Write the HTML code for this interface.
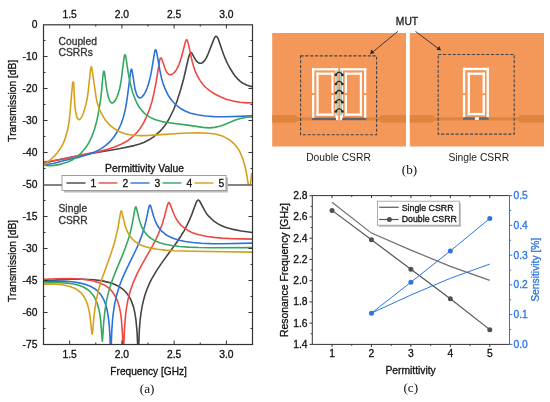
<!DOCTYPE html>
<html><head><meta charset="utf-8"><style>
html,body{margin:0;padding:0;background:#fff;}
svg{display:block;will-change:transform;}

</style></head><body>
<svg width="550" height="402" viewBox="0 0 550 402"><defs><clipPath id="ct"><rect x="43.5" y="24.5" width="209.0" height="160.0"/></clipPath>
<clipPath id="cb"><rect x="43.5" y="184.5" width="209.0" height="160.0"/></clipPath></defs>
<path d="M43.6,163.2 L56.3,160.3 L73.2,156.8 L92.4,153.2 L119.1,148.8 L134.2,145.6 L139.6,144.1 L144.3,142.2 L149.0,139.8 L153.6,136.8 L156.7,134.2 L159.6,131.6 L162.3,128.8 L164.7,125.7 L167.0,122.4 L169.3,118.5 L173.7,109.5 L177.2,100.6 L180.7,89.5 L183.8,78.2 L188.3,58.5 L189.3,55.2 L190.1,53.4 L190.9,52.6 L191.3,52.7 L191.8,53.1 L195.5,59.7 L196.7,61.3 L197.9,62.4 L199.1,63.1 L200.2,63.3 L201.4,63.2 L202.6,62.6 L204.6,60.6 L206.6,57.4 L208.6,52.8 L213.9,39.1 L214.9,37.1 L215.7,36.4 L216.2,36.3 L216.8,36.6 L217.9,38.2 L219.1,41.4 L223.5,54.2 L226.2,60.9 L229.8,68.0 L233.8,74.3 L235.8,76.9 L237.9,79.2 L240.0,81.1 L242.2,82.8 L244.6,84.1 L247.0,85.2 L249.7,86.1 L252.4,86.6" fill="none" stroke="#444444" stroke-width="1.6" stroke-linejoin="round" clip-path="url(#ct)"/>
<path d="M43.5,162.1 L52.7,160.8 L65.9,158.6 L84.3,154.3 L99.6,151.4 L105.6,149.9 L114.4,147.1 L121.2,144.3 L126.7,141.3 L131.7,137.5 L134.5,134.9 L137.1,132.2 L139.4,129.4 L141.5,126.3 L143.6,122.8 L145.6,118.7 L149.3,109.9 L151.9,101.8 L153.9,93.4 L156.3,81.1 L159.3,62.3 L159.8,59.7 L160.3,58.4 L160.7,58.0 L161.1,57.9 L161.8,58.9 L165.2,68.9 L166.3,71.3 L167.4,73.1 L168.6,74.2 L170.0,74.8 L171.3,74.6 L172.8,73.9 L174.4,72.4 L176.1,70.2 L177.7,67.4 L179.1,64.2 L181.5,57.0 L185.2,42.6 L185.9,40.5 L186.6,39.7 L186.9,39.9 L187.3,40.5 L188.1,42.7 L192.3,61.9 L193.8,67.0 L195.3,71.4 L197.4,76.0 L200.0,80.4 L202.7,84.2 L205.8,87.5 L209.9,90.9 L214.8,94.0 L220.8,97.0 L226.9,99.4 L233.2,101.1 L240.2,102.3 L246.6,102.9 L252.6,102.8" fill="none" stroke="#ee4a45" stroke-width="1.6" stroke-linejoin="round" clip-path="url(#ct)"/>
<path d="M43.4,164.2 L48.6,164.2 L53.4,163.5 L64.3,160.5 L79.5,157.1 L88.3,154.5 L95.0,151.9 L100.4,149.1 L105.5,145.7 L109.9,141.7 L114.1,136.7 L117.7,131.0 L120.9,124.5 L123.3,117.4 L125.0,110.9 L126.5,103.0 L127.9,92.9 L130.4,73.4 L131.2,69.4 L131.4,69.2 L131.7,69.3 L132.1,70.4 L134.6,86.7 L135.5,90.8 L136.5,94.1 L137.6,96.3 L138.9,97.6 L139.6,97.9 L140.3,97.9 L141.8,97.1 L143.6,95.1 L145.5,91.9 L147.2,87.7 L148.9,82.6 L150.2,77.4 L151.4,71.6 L154.6,52.5 L155.1,50.5 L155.6,49.7 L155.9,49.8 L156.2,50.5 L156.8,52.9 L159.8,70.0 L161.4,77.7 L163.0,83.4 L165.0,88.7 L167.9,94.7 L171.4,100.0 L175.5,104.5 L180.1,108.2 L185.1,111.0 L190.7,113.2 L197.4,114.8 L205.5,116.0 L214.0,116.6 L224.2,116.8 L239.7,116.4 L252.6,115.8" fill="none" stroke="#2c72d8" stroke-width="1.6" stroke-linejoin="round" clip-path="url(#ct)"/>
<path d="M43.4,165.0 L46.1,165.5 L48.8,165.7 L54.5,165.4 L61.4,164.1 L67.7,162.1 L72.7,159.7 L77.3,156.5 L81.6,152.6 L85.4,148.1 L88.9,142.7 L91.9,136.4 L94.5,129.3 L96.8,121.0 L98.7,111.4 L100.5,100.3 L101.6,90.4 L103.0,75.0 L103.6,71.5 L103.8,71.2 L104.1,71.2 L104.5,72.4 L106.7,89.4 L107.7,94.3 L108.7,98.2 L109.8,100.9 L110.9,102.5 L111.5,102.9 L112.2,103.0 L112.8,102.9 L113.5,102.4 L115.1,100.6 L116.8,97.3 L118.4,93.1 L119.8,88.1 L121.3,79.6 L124.0,57.8 L124.5,55.5 L124.9,54.7 L125.1,54.8 L125.3,55.2 L125.8,56.9 L128.3,73.4 L130.2,83.3 L132.6,92.2 L135.4,99.7 L136.9,103.1 L138.5,106.0 L140.2,108.6 L142.2,110.9 L144.3,113.1 L146.5,115.0 L149.0,116.6 L151.6,118.1 L154.8,119.4 L158.3,120.6 L162.2,121.6 L166.8,122.5 L189.5,125.4 L202.8,127.4 L209.5,127.9 L214.6,127.4 L219.7,126.3 L224.2,124.7 L234.7,120.3 L240.6,118.5 L246.4,117.3 L252.5,116.9" fill="none" stroke="#35a860" stroke-width="1.6" stroke-linejoin="round" clip-path="url(#ct)"/>
<path d="M43.1,165.5 L47.4,162.3 L51.3,159.0 L54.5,155.9 L57.3,152.7 L59.7,149.5 L61.8,146.1 L63.7,142.4 L65.2,138.4 L67.5,130.6 L69.2,121.3 L70.0,113.4 L72.4,84.9 L72.8,82.2 L73.0,82.0 L73.4,82.1 L73.7,83.5 L74.8,104.7 L75.5,110.9 L76.5,115.7 L77.6,118.6 L78.2,119.3 L78.9,119.6 L79.7,119.4 L80.4,118.9 L82.0,116.4 L83.4,113.0 L84.8,108.6 L86.0,104.1 L87.0,99.6 L88.3,90.6 L90.5,69.9 L90.8,67.6 L91.2,66.7 L91.7,67.8 L92.3,70.8 L96.2,97.8 L97.3,103.0 L98.9,107.8 L100.3,111.1 L101.9,114.3 L103.7,117.4 L105.6,120.2 L107.7,122.8 L109.9,125.1 L112.3,127.1 L114.8,129.0 L119.3,131.5 L124.3,133.5 L129.6,134.8 L135.4,135.4 L141.8,135.6 L149.3,135.4 L182.2,133.3 L198.1,132.8 L205.0,133.0 L210.9,133.5 L216.0,134.3 L220.5,135.5 L223.6,136.6 L226.5,138.1 L229.2,139.7 L231.7,141.6 L234.1,143.8 L236.2,146.3 L238.1,149.0 L239.9,151.9 L242.6,158.2 L244.8,165.5 L246.5,173.3 L249.0,189.0 L249.6,189.0 L249.8,188.2 L251.8,173.2" fill="none" stroke="#d6a01c" stroke-width="1.6" stroke-linejoin="round" clip-path="url(#ct)"/>
<path d="M43.5,281.1 L58.4,279.9 L71.7,279.3 L83.4,279.2 L93.6,279.7 L102.3,280.9 L109.7,282.6 L113.0,283.7 L116.0,285.0 L118.7,286.4 L121.2,288.0 L123.3,289.7 L125.3,291.5 L127.0,293.6 L128.6,295.8 L130.0,298.2 L131.3,300.9 L133.5,306.9 L134.9,313.2 L136.0,320.4 L137.1,332.4 L137.8,349.0 L138.6,349.0 L139.4,328.9 L140.1,320.5 L141.0,313.1 L142.1,306.6 L143.5,300.2 L145.2,294.2 L147.3,288.5 L149.1,284.1 L151.3,279.6 L156.7,270.4 L162.3,262.1 L177.0,242.0 L180.8,236.2 L184.1,230.8 L186.9,225.5 L189.4,220.2 L191.9,214.1 L195.8,203.5 L196.6,201.5 L197.4,200.5 L197.9,200.1 L198.4,200.1 L199.0,200.4 L199.6,201.0 L204.9,210.9 L206.8,213.9 L208.9,216.4 L212.9,220.3 L217.6,223.6 L220.7,225.2 L224.1,226.7 L227.8,228.0 L231.9,229.1 L241.2,231.0 L252.5,232.5" fill="none" stroke="#444444" stroke-width="1.6" stroke-linejoin="round" clip-path="url(#cb)"/>
<path d="M43.5,279.4 L56.5,278.7 L67.8,278.5 L77.7,278.8 L86.2,279.7 L93.5,281.0 L99.6,282.9 L104.8,285.3 L107.1,286.8 L109.2,288.4 L112.6,292.0 L115.3,296.2 L117.6,301.2 L119.4,307.2 L120.6,313.2 L121.5,320.4 L122.4,333.1 L123.0,348.9 L123.7,349.0 L124.4,329.6 L125.6,314.6 L126.5,307.9 L127.5,302.0 L128.8,296.2 L130.3,290.7 L133.4,282.1 L137.4,273.2 L141.6,265.2 L152.8,245.4 L155.8,239.6 L158.3,234.1 L160.4,228.9 L162.4,223.4 L164.4,216.8 L167.3,205.5 L168.0,203.6 L168.6,202.6 L169.0,202.5 L169.3,202.6 L169.9,203.6 L173.0,211.8 L174.5,215.5 L176.5,219.3 L178.7,222.5 L181.2,225.4 L184.2,228.0 L187.6,230.2 L191.4,232.2 L196.0,233.9 L201.3,235.3 L207.3,236.5 L214.1,237.4 L221.8,238.1 L230.7,238.6 L252.5,239.1" fill="none" stroke="#ee4a45" stroke-width="1.6" stroke-linejoin="round" clip-path="url(#cb)"/>
<path d="M43.5,281.5 L54.3,281.2 L63.8,281.3 L72.0,281.8 L79.1,282.9 L85.1,284.3 L90.3,286.2 L94.7,288.7 L98.3,291.7 L101.2,295.2 L103.6,299.3 L105.5,304.1 L107.1,309.8 L108.3,316.9 L109.3,325.6 L109.9,335.5 L110.4,349.0 L111.1,349.0 L111.8,330.2 L112.8,316.8 L114.5,304.8 L116.9,294.3 L119.5,285.8 L122.8,277.3 L126.4,269.3 L136.1,249.5 L138.7,243.6 L140.9,237.9 L142.9,232.3 L144.6,226.4 L146.3,219.6 L148.7,207.9 L149.3,206.0 L149.8,205.2 L150.0,205.1 L150.3,205.4 L150.9,206.6 L153.4,215.7 L155.2,220.8 L157.0,224.7 L159.1,228.0 L162.0,231.4 L165.3,234.2 L169.2,236.6 L173.7,238.6 L179.1,240.2 L185.4,241.5 L192.7,242.5 L201.2,243.2 L211.0,243.6 L222.5,243.7 L252.5,243.1" fill="none" stroke="#2c72d8" stroke-width="1.6" stroke-linejoin="round" clip-path="url(#cb)"/>
<path d="M43.5,283.0 L52.5,282.6 L60.4,282.7 L67.4,283.1 L73.5,284.0 L78.8,285.3 L83.3,287.0 L87.1,289.2 L90.4,291.9 L93.0,295.0 L95.2,298.7 L97.1,303.0 L98.6,308.2 L99.7,313.6 L100.6,319.9 L102.3,341.2 L102.6,338.9 L103.7,322.2 L104.7,312.8 L106.1,302.9 L108.0,294.1 L110.2,286.4 L112.9,278.5 L115.9,270.9 L123.9,251.7 L128.0,240.2 L129.8,234.4 L131.2,228.5 L132.7,221.4 L134.8,209.5 L135.3,207.6 L135.7,206.8 L136.1,207.1 L136.5,208.2 L138.8,217.9 L140.4,223.4 L142.1,227.7 L144.3,231.5 L147.2,235.1 L150.6,238.1 L154.6,240.6 L159.5,242.7 L165.1,244.3 L171.7,245.5 L179.4,246.5 L188.6,247.1 L198.9,247.5 L211.5,247.7 L252.5,247.6" fill="none" stroke="#35a860" stroke-width="1.6" stroke-linejoin="round" clip-path="url(#cb)"/>
<path d="M43.5,284.3 L50.4,284.1 L56.7,284.3 L62.2,284.8 L67.0,285.7 L71.2,286.9 L75.0,288.5 L78.1,290.4 L80.9,292.8 L83.2,295.5 L85.1,298.6 L86.8,302.4 L88.1,306.6 L89.1,310.9 L90.0,316.0 L91.8,332.7 L92.2,334.1 L92.6,332.0 L93.8,318.2 L94.8,309.6 L96.1,301.3 L97.7,293.6 L99.5,286.6 L101.7,279.5 L110.7,254.6 L114.2,243.6 L116.9,232.9 L118.3,226.0 L120.4,213.4 L120.8,211.5 L121.2,210.9 L121.6,211.3 L122.0,212.4 L124.1,221.8 L125.6,227.3 L127.5,231.9 L129.7,235.8 L132.6,239.4 L136.1,242.3 L140.4,244.7 L145.4,246.7 L150.9,248.1 L157.4,249.2 L165.1,250.1 L174.3,250.7 L193.3,251.3 L252.5,252.1" fill="none" stroke="#d6a01c" stroke-width="1.6" stroke-linejoin="round" clip-path="url(#cb)"/>
<rect x="43.5" y="24.8" width="209.0" height="319.7" fill="none" stroke="#333333" stroke-width="1.2"/>
<line x1="43.5" y1="185.0" x2="252.5" y2="185.0" stroke="#5a5a5a" stroke-width="1.3"/>
<line x1="69.625" y1="24.5" x2="69.625" y2="28.5" stroke="#333333" stroke-width="1"/>
<line x1="69.625" y1="344.5" x2="69.625" y2="340.5" stroke="#333333" stroke-width="1"/>
<line x1="95.75" y1="24.5" x2="95.75" y2="26.5" stroke="#333333" stroke-width="1"/>
<line x1="95.75" y1="344.5" x2="95.75" y2="342.5" stroke="#333333" stroke-width="1"/>
<line x1="121.875" y1="24.5" x2="121.875" y2="28.5" stroke="#333333" stroke-width="1"/>
<line x1="121.875" y1="344.5" x2="121.875" y2="340.5" stroke="#333333" stroke-width="1"/>
<line x1="148.0" y1="24.5" x2="148.0" y2="26.5" stroke="#333333" stroke-width="1"/>
<line x1="148.0" y1="344.5" x2="148.0" y2="342.5" stroke="#333333" stroke-width="1"/>
<line x1="174.125" y1="24.5" x2="174.125" y2="28.5" stroke="#333333" stroke-width="1"/>
<line x1="174.125" y1="344.5" x2="174.125" y2="340.5" stroke="#333333" stroke-width="1"/>
<line x1="200.25" y1="24.5" x2="200.25" y2="26.5" stroke="#333333" stroke-width="1"/>
<line x1="200.25" y1="344.5" x2="200.25" y2="342.5" stroke="#333333" stroke-width="1"/>
<line x1="226.375" y1="24.5" x2="226.375" y2="28.5" stroke="#333333" stroke-width="1"/>
<line x1="226.375" y1="344.5" x2="226.375" y2="340.5" stroke="#333333" stroke-width="1"/>
<text x="69.625" y="14.2" font-size="10.3" text-anchor="middle" fill="#111111" stroke="#111111" stroke-width="0.3" font-family="Liberation Sans" dominant-baseline="central">1.5</text>
<text x="69.625" y="354.2" font-size="10.3" text-anchor="middle" fill="#111111" stroke="#111111" stroke-width="0.3" font-family="Liberation Sans" dominant-baseline="central">1.5</text>
<text x="121.875" y="14.2" font-size="10.3" text-anchor="middle" fill="#111111" stroke="#111111" stroke-width="0.3" font-family="Liberation Sans" dominant-baseline="central">2.0</text>
<text x="121.875" y="354.2" font-size="10.3" text-anchor="middle" fill="#111111" stroke="#111111" stroke-width="0.3" font-family="Liberation Sans" dominant-baseline="central">2.0</text>
<text x="174.125" y="14.2" font-size="10.3" text-anchor="middle" fill="#111111" stroke="#111111" stroke-width="0.3" font-family="Liberation Sans" dominant-baseline="central">2.5</text>
<text x="174.125" y="354.2" font-size="10.3" text-anchor="middle" fill="#111111" stroke="#111111" stroke-width="0.3" font-family="Liberation Sans" dominant-baseline="central">2.5</text>
<text x="226.375" y="14.2" font-size="10.3" text-anchor="middle" fill="#111111" stroke="#111111" stroke-width="0.3" font-family="Liberation Sans" dominant-baseline="central">3.0</text>
<text x="226.375" y="354.2" font-size="10.3" text-anchor="middle" fill="#111111" stroke="#111111" stroke-width="0.3" font-family="Liberation Sans" dominant-baseline="central">3.0</text>
<line x1="43.5" y1="40.5" x2="45.5" y2="40.5" stroke="#333333" stroke-width="1"/>
<line x1="252.5" y1="40.5" x2="250.5" y2="40.5" stroke="#333333" stroke-width="1"/>
<line x1="43.5" y1="56.5" x2="47.5" y2="56.5" stroke="#333333" stroke-width="1"/>
<line x1="252.5" y1="56.5" x2="248.5" y2="56.5" stroke="#333333" stroke-width="1"/>
<line x1="43.5" y1="72.5" x2="45.5" y2="72.5" stroke="#333333" stroke-width="1"/>
<line x1="252.5" y1="72.5" x2="250.5" y2="72.5" stroke="#333333" stroke-width="1"/>
<line x1="43.5" y1="88.5" x2="47.5" y2="88.5" stroke="#333333" stroke-width="1"/>
<line x1="252.5" y1="88.5" x2="248.5" y2="88.5" stroke="#333333" stroke-width="1"/>
<line x1="43.5" y1="104.5" x2="45.5" y2="104.5" stroke="#333333" stroke-width="1"/>
<line x1="252.5" y1="104.5" x2="250.5" y2="104.5" stroke="#333333" stroke-width="1"/>
<line x1="43.5" y1="120.5" x2="47.5" y2="120.5" stroke="#333333" stroke-width="1"/>
<line x1="252.5" y1="120.5" x2="248.5" y2="120.5" stroke="#333333" stroke-width="1"/>
<line x1="43.5" y1="136.5" x2="45.5" y2="136.5" stroke="#333333" stroke-width="1"/>
<line x1="252.5" y1="136.5" x2="250.5" y2="136.5" stroke="#333333" stroke-width="1"/>
<line x1="43.5" y1="152.5" x2="47.5" y2="152.5" stroke="#333333" stroke-width="1"/>
<line x1="252.5" y1="152.5" x2="248.5" y2="152.5" stroke="#333333" stroke-width="1"/>
<line x1="43.5" y1="168.5" x2="45.5" y2="168.5" stroke="#333333" stroke-width="1"/>
<line x1="252.5" y1="168.5" x2="250.5" y2="168.5" stroke="#333333" stroke-width="1"/>
<text x="37.5" y="24.5" font-size="10.3" text-anchor="end" fill="#111111" stroke="#111111" stroke-width="0.3" font-family="Liberation Sans" dominant-baseline="central">0</text>
<text x="37.5" y="56.5" font-size="10.3" text-anchor="end" fill="#111111" stroke="#111111" stroke-width="0.3" font-family="Liberation Sans" dominant-baseline="central">-10</text>
<text x="37.5" y="88.5" font-size="10.3" text-anchor="end" fill="#111111" stroke="#111111" stroke-width="0.3" font-family="Liberation Sans" dominant-baseline="central">-20</text>
<text x="37.5" y="120.5" font-size="10.3" text-anchor="end" fill="#111111" stroke="#111111" stroke-width="0.3" font-family="Liberation Sans" dominant-baseline="central">-30</text>
<text x="37.5" y="152.5" font-size="10.3" text-anchor="end" fill="#111111" stroke="#111111" stroke-width="0.3" font-family="Liberation Sans" dominant-baseline="central">-40</text>
<text x="37.5" y="184.5" font-size="10.3" text-anchor="end" fill="#111111" stroke="#111111" stroke-width="0.3" font-family="Liberation Sans" dominant-baseline="central">-50</text>
<line x1="43.5" y1="200.5" x2="45.5" y2="200.5" stroke="#333333" stroke-width="1"/>
<line x1="252.5" y1="200.5" x2="250.5" y2="200.5" stroke="#333333" stroke-width="1"/>
<line x1="43.5" y1="216.5" x2="47.5" y2="216.5" stroke="#333333" stroke-width="1"/>
<line x1="252.5" y1="216.5" x2="248.5" y2="216.5" stroke="#333333" stroke-width="1"/>
<line x1="43.5" y1="232.5" x2="45.5" y2="232.5" stroke="#333333" stroke-width="1"/>
<line x1="252.5" y1="232.5" x2="250.5" y2="232.5" stroke="#333333" stroke-width="1"/>
<line x1="43.5" y1="248.5" x2="47.5" y2="248.5" stroke="#333333" stroke-width="1"/>
<line x1="252.5" y1="248.5" x2="248.5" y2="248.5" stroke="#333333" stroke-width="1"/>
<line x1="43.5" y1="264.5" x2="45.5" y2="264.5" stroke="#333333" stroke-width="1"/>
<line x1="252.5" y1="264.5" x2="250.5" y2="264.5" stroke="#333333" stroke-width="1"/>
<line x1="43.5" y1="280.5" x2="47.5" y2="280.5" stroke="#333333" stroke-width="1"/>
<line x1="252.5" y1="280.5" x2="248.5" y2="280.5" stroke="#333333" stroke-width="1"/>
<line x1="43.5" y1="296.5" x2="45.5" y2="296.5" stroke="#333333" stroke-width="1"/>
<line x1="252.5" y1="296.5" x2="250.5" y2="296.5" stroke="#333333" stroke-width="1"/>
<line x1="43.5" y1="312.5" x2="47.5" y2="312.5" stroke="#333333" stroke-width="1"/>
<line x1="252.5" y1="312.5" x2="248.5" y2="312.5" stroke="#333333" stroke-width="1"/>
<line x1="43.5" y1="328.5" x2="45.5" y2="328.5" stroke="#333333" stroke-width="1"/>
<line x1="252.5" y1="328.5" x2="250.5" y2="328.5" stroke="#333333" stroke-width="1"/>
<text x="37.5" y="216.5" font-size="10.3" text-anchor="end" fill="#111111" stroke="#111111" stroke-width="0.3" font-family="Liberation Sans" dominant-baseline="central">-15</text>
<text x="37.5" y="248.5" font-size="10.3" text-anchor="end" fill="#111111" stroke="#111111" stroke-width="0.3" font-family="Liberation Sans" dominant-baseline="central">-30</text>
<text x="37.5" y="280.5" font-size="10.3" text-anchor="end" fill="#111111" stroke="#111111" stroke-width="0.3" font-family="Liberation Sans" dominant-baseline="central">-45</text>
<text x="37.5" y="312.5" font-size="10.3" text-anchor="end" fill="#111111" stroke="#111111" stroke-width="0.3" font-family="Liberation Sans" dominant-baseline="central">-60</text>
<text x="37.5" y="344.5" font-size="10.3" text-anchor="end" fill="#111111" stroke="#111111" stroke-width="0.3" font-family="Liberation Sans" dominant-baseline="central">-75</text>
<text x="12.5" y="100.7" font-size="10.3" text-anchor="middle" fill="#111111" stroke="#111111" stroke-width="0.3" font-family="Liberation Sans" dominant-baseline="central" transform="rotate(-90 12.5 100.7)">Transmission [dB]</text>
<text x="12.2" y="260.9" font-size="10.3" text-anchor="middle" fill="#111111" stroke="#111111" stroke-width="0.3" font-family="Liberation Sans" dominant-baseline="central" transform="rotate(-90 12.2 260.9)">Transmission [dB]</text>
<text x="148.6" y="371.2" font-size="10.15" text-anchor="middle" fill="#111111" stroke="#111111" stroke-width="0.3" font-family="Liberation Sans" dominant-baseline="central">Frequency [GHz]</text>
<text x="58.5" y="41" font-size="10.3" text-anchor="start" fill="#333" stroke="#333" stroke-width="0.3" font-family="Liberation Sans" dominant-baseline="central">Coupled</text>
<text x="58.5" y="52.5" font-size="10.3" text-anchor="start" fill="#333" stroke="#333" stroke-width="0.3" font-family="Liberation Sans" dominant-baseline="central">CSRRs</text>
<text x="58.5" y="208.6" font-size="10.3" text-anchor="start" fill="#333" stroke="#333" stroke-width="0.3" font-family="Liberation Sans" dominant-baseline="central">Single</text>
<text x="58.5" y="220.5" font-size="10.3" text-anchor="start" fill="#333" stroke="#333" stroke-width="0.3" font-family="Liberation Sans" dominant-baseline="central">CSRR</text>
<text x="144.5" y="168" font-size="10.3" text-anchor="middle" fill="#111111" stroke="#111111" stroke-width="0.3" font-family="Liberation Sans" dominant-baseline="central">Permittivity Value</text>
<rect x="64" y="177.5" width="164" height="15" fill="#bdbdbd"/>
<rect x="62" y="175.5" width="164" height="15" fill="#fff" stroke="#888" stroke-width="0.8"/>
<line x1="66.5" y1="183" x2="85.5" y2="183" stroke="#444444" stroke-width="1.4"/>
<text x="93.3" y="183.3" font-size="10.3" text-anchor="middle" fill="#111111" stroke="#111111" stroke-width="0.3" font-family="Liberation Sans" dominant-baseline="central">1</text>
<line x1="98.5" y1="183" x2="117.5" y2="183" stroke="#ee4a45" stroke-width="1.4"/>
<text x="125.3" y="183.3" font-size="10.3" text-anchor="middle" fill="#111111" stroke="#111111" stroke-width="0.3" font-family="Liberation Sans" dominant-baseline="central">2</text>
<line x1="130.5" y1="183" x2="149.5" y2="183" stroke="#2c72d8" stroke-width="1.4"/>
<text x="157.3" y="183.3" font-size="10.3" text-anchor="middle" fill="#111111" stroke="#111111" stroke-width="0.3" font-family="Liberation Sans" dominant-baseline="central">3</text>
<line x1="162.5" y1="183" x2="181.5" y2="183" stroke="#35a860" stroke-width="1.4"/>
<text x="189.3" y="183.3" font-size="10.3" text-anchor="middle" fill="#111111" stroke="#111111" stroke-width="0.3" font-family="Liberation Sans" dominant-baseline="central">4</text>
<line x1="194.5" y1="183" x2="213.5" y2="183" stroke="#d6a01c" stroke-width="1.4"/>
<text x="221.3" y="183.3" font-size="10.3" text-anchor="middle" fill="#111111" stroke="#111111" stroke-width="0.3" font-family="Liberation Sans" dominant-baseline="central">5</text>
<text x="147.1" y="388.7" font-size="13.2" text-anchor="middle" fill="#111111" stroke="#111111" stroke-width="0" font-family="Liberation Serif" dominant-baseline="central">(a)</text>
<rect x="272.2" y="33" width="133.8" height="113.5" fill="#f4985a"/>
<rect x="409.8" y="33" width="134.2" height="113.5" fill="#f4985a"/>
<path d="M272.2,115.1 H293.5 Q296.5,115.1 298.0,117.2 H379.0 Q380.5,115.1 383.5,115.1 H406 V122.7 H383.5 Q380.5,122.7 379.0,120.4 H298.0 Q296.5,122.7 293.5,122.7 H272.2 Z" fill="#e0843f"/>
<path d="M409.8,115.1 H430.5 Q433.5,115.1 435.0,117.2 H518.0 Q519.5,115.1 522.5,115.1 H544 V122.7 H522.5 Q519.5,122.7 518.0,120.4 H435.0 Q433.5,122.7 430.5,122.7 H409.8 Z" fill="#e0843f"/>
<rect x="462.90" y="67.80" width="26.00" height="2.30" fill="#ffffff"/>
<rect x="462.90" y="67.80" width="2.30" height="49.60" fill="#ffffff"/>
<rect x="486.60" y="67.80" width="2.30" height="49.60" fill="#ffffff"/>
<rect x="467.70" y="72.60" width="17.20" height="2.30" fill="#ffffff"/>
<rect x="467.70" y="112.90" width="17.20" height="2.30" fill="#ffffff"/>
<rect x="467.70" y="72.60" width="2.30" height="42.60" fill="#ffffff"/>
<rect x="482.60" y="72.60" width="2.30" height="42.60" fill="#ffffff"/>
<rect x="462.40" y="93.20" width="3.30" height="1.90" fill="#f4985a"/>
<rect x="482.10" y="93.20" width="3.30" height="1.90" fill="#f4985a"/>
<rect x="463.20" y="117.40" width="25.40" height="2.30" fill="#5c6572"/>
<rect x="474.90" y="117.20" width="4.00" height="2.60" fill="#ffffff"/>
<rect x="312.10" y="68.20" width="25.60" height="2.20" fill="#ffffff"/>
<rect x="312.10" y="68.20" width="2.20" height="49.70" fill="#ffffff"/>
<rect x="335.50" y="68.20" width="2.20" height="49.70" fill="#ffffff"/>
<rect x="316.40" y="72.60" width="17.20" height="2.20" fill="#ffffff"/>
<rect x="316.40" y="113.50" width="17.20" height="2.20" fill="#ffffff"/>
<rect x="316.40" y="72.60" width="2.20" height="43.10" fill="#ffffff"/>
<rect x="331.40" y="72.60" width="2.20" height="43.10" fill="#ffffff"/>
<rect x="311.60" y="93.00" width="3.20" height="2.00" fill="#f4985a"/>
<rect x="330.90" y="93.00" width="3.20" height="2.00" fill="#f4985a"/>
<rect x="340.70" y="68.20" width="25.60" height="2.20" fill="#ffffff"/>
<rect x="340.70" y="68.20" width="2.20" height="49.70" fill="#ffffff"/>
<rect x="364.10" y="68.20" width="2.20" height="49.70" fill="#ffffff"/>
<rect x="344.80" y="72.60" width="17.20" height="2.20" fill="#ffffff"/>
<rect x="344.80" y="113.50" width="17.20" height="2.20" fill="#ffffff"/>
<rect x="344.80" y="72.60" width="2.20" height="43.10" fill="#ffffff"/>
<rect x="359.80" y="72.60" width="2.20" height="43.10" fill="#ffffff"/>
<rect x="363.60" y="93.00" width="3.20" height="2.00" fill="#f4985a"/>
<rect x="344.30" y="93.00" width="3.20" height="2.00" fill="#f4985a"/>
<rect x="335.90" y="68.20" width="6.30" height="52.00" fill="#ffffff"/>
<rect x="336.20" y="70.40" width="2.00" height="45.00" fill="#9dd3b3"/>
<rect x="340.20" y="70.40" width="2.00" height="45.00" fill="#9dd3b3"/>
<rect x="338.20" y="66.00" width="2.00" height="54.60" fill="#f4985a"/>
<rect x="312.10" y="117.90" width="23.80" height="2.20" fill="#5c6572"/>
<rect x="342.20" y="117.90" width="24.10" height="2.20" fill="#5c6572"/>
<path d="M335.5,75.30000000000001 Q339.15,68.80000000000001 342.8,75.30000000000001" fill="none" stroke="#1f2a36" stroke-width="1.3"/>
<circle cx="335.9" cy="74.9" r="1.35" fill="#1f2a36"/><circle cx="342.4" cy="74.9" r="1.35" fill="#1f2a36"/>
<path d="M335.5,84.4 Q339.15,77.9 342.8,84.4" fill="none" stroke="#1f2a36" stroke-width="1.3"/>
<circle cx="335.9" cy="84.0" r="1.35" fill="#1f2a36"/><circle cx="342.4" cy="84.0" r="1.35" fill="#1f2a36"/>
<path d="M335.5,93.50000000000001 Q339.15,87.00000000000001 342.8,93.50000000000001" fill="none" stroke="#1f2a36" stroke-width="1.3"/>
<circle cx="335.9" cy="93.10000000000001" r="1.35" fill="#1f2a36"/><circle cx="342.4" cy="93.10000000000001" r="1.35" fill="#1f2a36"/>
<path d="M335.5,102.60000000000001 Q339.15,96.10000000000001 342.8,102.60000000000001" fill="none" stroke="#1f2a36" stroke-width="1.3"/>
<circle cx="335.9" cy="102.2" r="1.35" fill="#1f2a36"/><circle cx="342.4" cy="102.2" r="1.35" fill="#1f2a36"/>
<path d="M335.5,111.9 Q339.15,105.4 342.8,111.9" fill="none" stroke="#1f2a36" stroke-width="1.3"/>
<circle cx="335.9" cy="111.5" r="1.35" fill="#1f2a36"/><circle cx="342.4" cy="111.5" r="1.35" fill="#1f2a36"/>
<rect x="300.6" y="55.9" width="76.0" height="78.9" fill="none" stroke="#444" stroke-width="1.1" stroke-dasharray="3.1,1.7"/>
<rect x="438.2" y="54.5" width="76.0" height="79.6" fill="none" stroke="#444" stroke-width="1.1" stroke-dasharray="3.1,1.7"/>
<line x1="397.8" y1="31.4" x2="372.5" y2="52.2" stroke="#2a2a2a" stroke-width="0.9"/>
<path d="M370,54.3 L371.3,49.6 L374.6,53.1 Z" fill="#2a2a2a"/>
<line x1="415.5" y1="31.4" x2="438.6" y2="48.8" stroke="#2a2a2a" stroke-width="0.9"/>
<path d="M441,50.6 L436.4,49.7 L439.3,46.0 Z" fill="#2a2a2a"/>
<text x="407" y="21" font-size="10.3" text-anchor="middle" fill="#222" stroke="#222" stroke-width="0.3" font-family="Liberation Sans" dominant-baseline="central">MUT</text>
<text x="338.5" y="157.7" font-size="10.3" text-anchor="middle" fill="#222" font-family="Liberation Sans" dominant-baseline="central">Double CSRR</text>
<text x="478.8" y="157.7" font-size="10.3" text-anchor="middle" fill="#222" font-family="Liberation Sans" dominant-baseline="central">Single CSRR</text>
<text x="409.5" y="169.0" font-size="13.2" text-anchor="middle" fill="#111111" stroke="#111111" stroke-width="0" font-family="Liberation Serif" dominant-baseline="central">(b)</text>
<line x1="312.3" y1="195.6" x2="509.5" y2="195.6" stroke="#333333" stroke-width="1"/>
<line x1="312.3" y1="344.4" x2="509.5" y2="344.4" stroke="#333333" stroke-width="1"/>
<line x1="312.3" y1="195.6" x2="312.3" y2="344.4" stroke="#333333" stroke-width="1"/>
<line x1="509.5" y1="195.6" x2="509.5" y2="344.4" stroke="#2c74e0" stroke-width="1"/>
<line x1="332.02" y1="344.4" x2="332.02" y2="346.9" stroke="#333333" stroke-width="1"/>
<line x1="332.02" y1="195.6" x2="332.02" y2="198.1" stroke="#333333" stroke-width="1"/>
<line x1="351.74" y1="344.4" x2="351.74" y2="345.9" stroke="#333333" stroke-width="1"/>
<line x1="351.74" y1="195.6" x2="351.74" y2="197.1" stroke="#333333" stroke-width="1"/>
<line x1="371.46000000000004" y1="344.4" x2="371.46000000000004" y2="346.9" stroke="#333333" stroke-width="1"/>
<line x1="371.46000000000004" y1="195.6" x2="371.46000000000004" y2="198.1" stroke="#333333" stroke-width="1"/>
<line x1="391.18" y1="344.4" x2="391.18" y2="345.9" stroke="#333333" stroke-width="1"/>
<line x1="391.18" y1="195.6" x2="391.18" y2="197.1" stroke="#333333" stroke-width="1"/>
<line x1="410.9" y1="344.4" x2="410.9" y2="346.9" stroke="#333333" stroke-width="1"/>
<line x1="410.9" y1="195.6" x2="410.9" y2="198.1" stroke="#333333" stroke-width="1"/>
<line x1="430.62" y1="344.4" x2="430.62" y2="345.9" stroke="#333333" stroke-width="1"/>
<line x1="430.62" y1="195.6" x2="430.62" y2="197.1" stroke="#333333" stroke-width="1"/>
<line x1="450.34000000000003" y1="344.4" x2="450.34000000000003" y2="346.9" stroke="#333333" stroke-width="1"/>
<line x1="450.34000000000003" y1="195.6" x2="450.34000000000003" y2="198.1" stroke="#333333" stroke-width="1"/>
<line x1="470.06" y1="344.4" x2="470.06" y2="345.9" stroke="#333333" stroke-width="1"/>
<line x1="470.06" y1="195.6" x2="470.06" y2="197.1" stroke="#333333" stroke-width="1"/>
<line x1="489.78" y1="344.4" x2="489.78" y2="346.9" stroke="#333333" stroke-width="1"/>
<line x1="489.78" y1="195.6" x2="489.78" y2="198.1" stroke="#333333" stroke-width="1"/>
<text x="332.02" y="353.8" font-size="10.3" text-anchor="middle" fill="#111111" stroke="#111111" stroke-width="0.3" font-family="Liberation Sans" dominant-baseline="central">1</text>
<text x="371.46000000000004" y="353.8" font-size="10.3" text-anchor="middle" fill="#111111" stroke="#111111" stroke-width="0.3" font-family="Liberation Sans" dominant-baseline="central">2</text>
<text x="410.9" y="353.8" font-size="10.3" text-anchor="middle" fill="#111111" stroke="#111111" stroke-width="0.3" font-family="Liberation Sans" dominant-baseline="central">3</text>
<text x="450.34000000000003" y="353.8" font-size="10.3" text-anchor="middle" fill="#111111" stroke="#111111" stroke-width="0.3" font-family="Liberation Sans" dominant-baseline="central">4</text>
<text x="489.78" y="353.8" font-size="10.3" text-anchor="middle" fill="#111111" stroke="#111111" stroke-width="0.3" font-family="Liberation Sans" dominant-baseline="central">5</text>
<line x1="309.5" y1="344.4" x2="312.3" y2="344.4" stroke="#333333" stroke-width="1"/>
<line x1="310.7" y1="333.78" x2="312.3" y2="333.78" stroke="#333333" stroke-width="1"/>
<line x1="309.5" y1="323.15999999999997" x2="312.3" y2="323.15999999999997" stroke="#333333" stroke-width="1"/>
<line x1="310.7" y1="312.53999999999996" x2="312.3" y2="312.53999999999996" stroke="#333333" stroke-width="1"/>
<line x1="309.5" y1="301.91999999999996" x2="312.3" y2="301.91999999999996" stroke="#333333" stroke-width="1"/>
<line x1="310.7" y1="291.29999999999995" x2="312.3" y2="291.29999999999995" stroke="#333333" stroke-width="1"/>
<line x1="309.5" y1="280.67999999999995" x2="312.3" y2="280.67999999999995" stroke="#333333" stroke-width="1"/>
<line x1="310.7" y1="270.05999999999995" x2="312.3" y2="270.05999999999995" stroke="#333333" stroke-width="1"/>
<line x1="309.5" y1="259.43999999999994" x2="312.3" y2="259.43999999999994" stroke="#333333" stroke-width="1"/>
<line x1="310.7" y1="248.82" x2="312.3" y2="248.82" stroke="#333333" stroke-width="1"/>
<line x1="309.5" y1="238.2" x2="312.3" y2="238.2" stroke="#333333" stroke-width="1"/>
<line x1="310.7" y1="227.57999999999998" x2="312.3" y2="227.57999999999998" stroke="#333333" stroke-width="1"/>
<line x1="309.5" y1="216.95999999999995" x2="312.3" y2="216.95999999999995" stroke="#333333" stroke-width="1"/>
<line x1="310.7" y1="206.33999999999995" x2="312.3" y2="206.33999999999995" stroke="#333333" stroke-width="1"/>
<line x1="309.5" y1="195.71999999999997" x2="312.3" y2="195.71999999999997" stroke="#333333" stroke-width="1"/>
<text x="307.5" y="344.4" font-size="10.3" text-anchor="end" fill="#111111" stroke="#111111" stroke-width="0.3" font-family="Liberation Sans" dominant-baseline="central">1.4</text>
<text x="307.5" y="323.15999999999997" font-size="10.3" text-anchor="end" fill="#111111" stroke="#111111" stroke-width="0.3" font-family="Liberation Sans" dominant-baseline="central">1.6</text>
<text x="307.5" y="301.91999999999996" font-size="10.3" text-anchor="end" fill="#111111" stroke="#111111" stroke-width="0.3" font-family="Liberation Sans" dominant-baseline="central">1.8</text>
<text x="307.5" y="280.67999999999995" font-size="10.3" text-anchor="end" fill="#111111" stroke="#111111" stroke-width="0.3" font-family="Liberation Sans" dominant-baseline="central">2.0</text>
<text x="307.5" y="259.43999999999994" font-size="10.3" text-anchor="end" fill="#111111" stroke="#111111" stroke-width="0.3" font-family="Liberation Sans" dominant-baseline="central">2.2</text>
<text x="307.5" y="238.2" font-size="10.3" text-anchor="end" fill="#111111" stroke="#111111" stroke-width="0.3" font-family="Liberation Sans" dominant-baseline="central">2.4</text>
<text x="307.5" y="216.95999999999995" font-size="10.3" text-anchor="end" fill="#111111" stroke="#111111" stroke-width="0.3" font-family="Liberation Sans" dominant-baseline="central">2.6</text>
<text x="307.5" y="195.71999999999997" font-size="10.3" text-anchor="end" fill="#111111" stroke="#111111" stroke-width="0.3" font-family="Liberation Sans" dominant-baseline="central">2.8</text>
<line x1="509.5" y1="344.4" x2="512.3" y2="344.4" stroke="#2c74e0" stroke-width="1"/>
<line x1="509.5" y1="329.52" x2="511.1" y2="329.52" stroke="#2c74e0" stroke-width="1"/>
<line x1="509.5" y1="314.64" x2="512.3" y2="314.64" stroke="#2c74e0" stroke-width="1"/>
<line x1="509.5" y1="299.76" x2="511.1" y2="299.76" stroke="#2c74e0" stroke-width="1"/>
<line x1="509.5" y1="284.88" x2="512.3" y2="284.88" stroke="#2c74e0" stroke-width="1"/>
<line x1="509.5" y1="270.0" x2="511.1" y2="270.0" stroke="#2c74e0" stroke-width="1"/>
<line x1="509.5" y1="255.11999999999995" x2="512.3" y2="255.11999999999995" stroke="#2c74e0" stroke-width="1"/>
<line x1="509.5" y1="240.23999999999995" x2="511.1" y2="240.23999999999995" stroke="#2c74e0" stroke-width="1"/>
<line x1="509.5" y1="225.35999999999996" x2="512.3" y2="225.35999999999996" stroke="#2c74e0" stroke-width="1"/>
<line x1="509.5" y1="210.47999999999996" x2="511.1" y2="210.47999999999996" stroke="#2c74e0" stroke-width="1"/>
<line x1="509.5" y1="195.59999999999997" x2="512.3" y2="195.59999999999997" stroke="#2c74e0" stroke-width="1"/>
<text x="513.5" y="344.4" font-size="10.3" text-anchor="start" fill="#2c74e0" stroke="#2c74e0" stroke-width="0.3" font-family="Liberation Sans" dominant-baseline="central">0.0</text>
<text x="513.5" y="314.64" font-size="10.3" text-anchor="start" fill="#2c74e0" stroke="#2c74e0" stroke-width="0.3" font-family="Liberation Sans" dominant-baseline="central">0.1</text>
<text x="513.5" y="284.88" font-size="10.3" text-anchor="start" fill="#2c74e0" stroke="#2c74e0" stroke-width="0.3" font-family="Liberation Sans" dominant-baseline="central">0.2</text>
<text x="513.5" y="255.11999999999998" font-size="10.3" text-anchor="start" fill="#2c74e0" stroke="#2c74e0" stroke-width="0.3" font-family="Liberation Sans" dominant-baseline="central">0.3</text>
<text x="513.5" y="225.35999999999996" font-size="10.3" text-anchor="start" fill="#2c74e0" stroke="#2c74e0" stroke-width="0.3" font-family="Liberation Sans" dominant-baseline="central">0.4</text>
<text x="513.5" y="195.59999999999997" font-size="10.3" text-anchor="start" fill="#2c74e0" stroke="#2c74e0" stroke-width="0.3" font-family="Liberation Sans" dominant-baseline="central">0.5</text>
<text x="284.8" y="270.0" font-size="10.4" text-anchor="middle" fill="#111111" stroke="#111111" stroke-width="0.3" font-family="Liberation Sans" dominant-baseline="central" transform="rotate(-90 284.8 270.0)">Resonance Frequency [GHz]</text>
<text x="535.7" y="269.7" font-size="10.3" text-anchor="middle" fill="#2c74e0" stroke="#2c74e0" stroke-width="0.3" font-family="Liberation Sans" dominant-baseline="central" transform="rotate(-90 535.7 269.7)">Sensitivity [%]</text>
<text x="410.6" y="370.5" font-size="10.3" text-anchor="middle" fill="#111111" stroke="#111111" stroke-width="0.3" font-family="Liberation Sans" dominant-baseline="central">Permittivity</text>
<text x="410.8" y="387.3" font-size="13.2" text-anchor="middle" fill="#111111" stroke="#111111" stroke-width="0" font-family="Liberation Serif" dominant-baseline="central">(c)</text>
<polyline points="332.02,202.20 371.46,233.10 410.90,250.09 450.34,266.34 489.78,280.36" fill="none" stroke="#6e6e6e" stroke-width="1.2"/>
<polyline points="332.02,210.38 371.46,239.79 410.90,269.32 450.34,298.84 489.78,329.64" fill="none" stroke="#555555" stroke-width="1.2"/>
<circle cx="332.02" cy="210.38" r="2.5" fill="#505050"/>
<circle cx="371.46" cy="239.79" r="2.5" fill="#505050"/>
<circle cx="410.90" cy="269.32" r="2.5" fill="#505050"/>
<circle cx="450.34" cy="298.84" r="2.5" fill="#505050"/>
<circle cx="489.78" cy="329.64" r="2.5" fill="#505050"/>
<polyline points="371.46,313.15 410.90,295.00 450.34,278.33 489.78,264.05" fill="none" stroke="#2c74e0" stroke-width="1"/>
<polyline points="371.46,313.15 410.90,282.20 450.34,250.95 489.78,218.52" fill="none" stroke="#2c74e0" stroke-width="1"/>
<circle cx="371.46" cy="313.15" r="2.5" fill="#2c74e0"/>
<circle cx="410.90" cy="282.20" r="2.5" fill="#2c74e0"/>
<circle cx="450.34" cy="250.95" r="2.5" fill="#2c74e0"/>
<circle cx="489.78" cy="218.52" r="2.5" fill="#2c74e0"/>
<rect x="379.2" y="202.9" width="81.8" height="24" fill="#c4c4c4"/>
<rect x="377.5" y="201.2" width="81.8" height="24" fill="#fff" stroke="#9a9a9a" stroke-width="0.8"/>
<line x1="379.1" y1="207.3" x2="398.7" y2="207.3" stroke="#6e6e6e" stroke-width="1.4"/>
<line x1="379.1" y1="219.5" x2="398.7" y2="219.5" stroke="#555555" stroke-width="1.2"/>
<circle cx="389.4" cy="219.5" r="2.5" fill="#505050"/>
<text x="401.7" y="208.1" font-size="8.8" text-anchor="start" fill="#111111" stroke="#111111" stroke-width="0.3" font-family="Liberation Sans" dominant-baseline="central">Single CSRR</text>
<text x="401.7" y="219.3" font-size="8.8" text-anchor="start" fill="#111111" stroke="#111111" stroke-width="0.3" font-family="Liberation Sans" dominant-baseline="central">Double CSRR</text></svg>
</body></html>
